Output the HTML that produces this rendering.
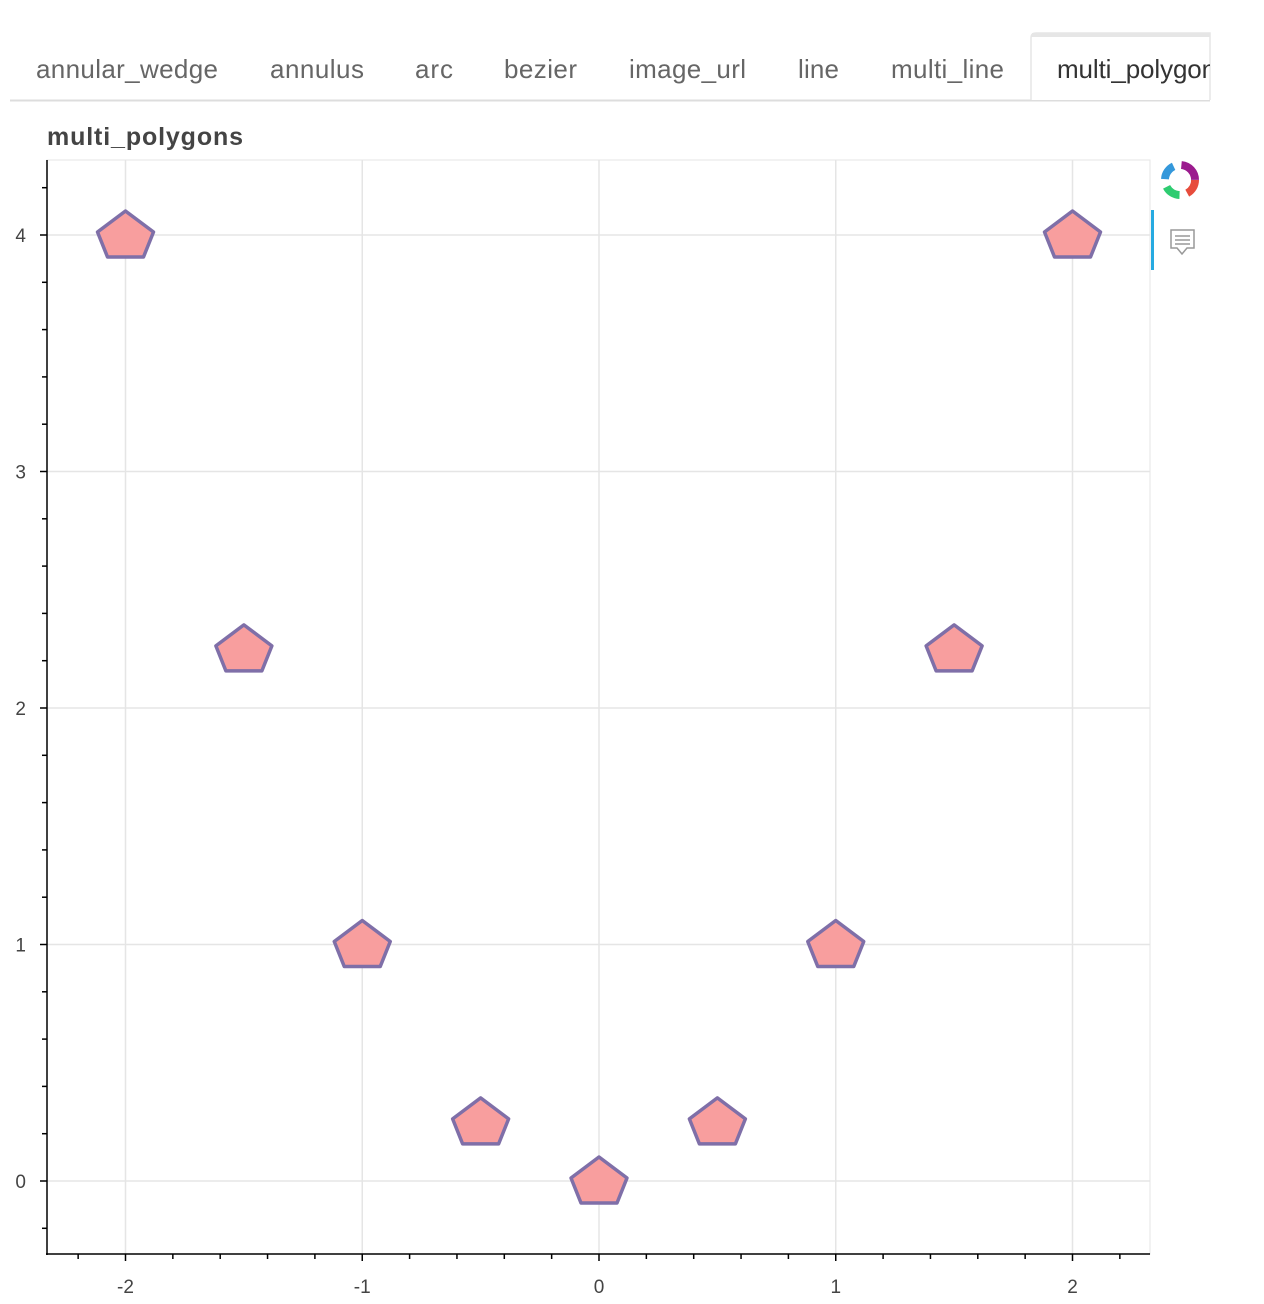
<!DOCTYPE html>
<html><head><meta charset="utf-8"><style>
body{margin:0;background:#fff;font-family:"Liberation Sans",sans-serif;}
svg{display:block}
</style></head><body>
<svg width="1264" height="1304">
<g font-size="26" fill="#666">
<line x1="10" y1="100.5" x2="1210" y2="100.5" stroke="#ddd" stroke-width="2"/>
<path d="M1031 100 V38 Q1031 33 1036 33 H1210 V100" fill="#fff" stroke="#e6e6e6" stroke-width="1.5"/>
<rect x="1032" y="33" width="178" height="4" fill="#e6e6e6"/>
<text x="36" y="78" textLength="182">annular_wedge</text>
<text x="270" y="78" textLength="94">annulus</text>
<text x="415" y="78" textLength="38">arc</text>
<text x="504" y="78" textLength="73">bezier</text>
<text x="629" y="78" textLength="117">image_url</text>
<text x="798" y="78" textLength="41">line</text>
<text x="891" y="78" textLength="113">multi_line</text>
<svg x="1031" y="33" width="179" height="67" overflow="hidden"><text x="26" y="45" fill="#333" font-size="26" textLength="172">multi_polygons</text></svg>
</g>
<text x="47" y="145" font-size="25" font-weight="bold" fill="#444" textLength="196">multi_polygons</text>
<rect x="47" y="160" width="1103" height="1094" fill="none" stroke="#e5e5e5"/>
<g id="grid"></g>
<g id="axes"></g>
<g id="marks"></g>
<g>
<g transform="translate(1180,180)">
<circle r="15" fill="none" stroke="#e74c3c" stroke-width="8" stroke-dasharray="16 80"/>
<circle r="15" fill="none" stroke="#2ecc71" stroke-width="8" stroke-dasharray="0 24 16 80"/>
<circle r="15" fill="none" stroke="#3498db" stroke-width="8" stroke-dasharray="0 48 16 80"/>
<circle r="15" fill="none" stroke="#9b1b8e" stroke-width="8" stroke-dasharray="0 72 22 80"/>
<circle r="11" fill="#fff"/>
</g>
<rect x="1151" y="210" width="3" height="60" fill="#26aae1"/>
<g fill="none" stroke="#999" stroke-width="1.5">
<path d="M1171 230 H1194 V248 H1187 L1182 254 L1177 248 H1171 Z"/>
<path d="M1175 236 H1190 M1175 240 H1190 M1175 244 H1190"/>
</g>
</g>
</svg>
<script>
const xTicks=[-2,-1,0,1,2];
const yTicks=[0,1,2,3,4];
const xs=[-2,-1.5,-1,-0.5,0,0.5,1,1.5,2];
const ys=[4,2.25,1,0.25,0,0.25,1,2.25,4];
const NS='http://www.w3.org/2000/svg';
const L=47,R=1150,T=160,B=1254;
function sx(v){return 599+v*236.75;}
function sy(v){return 1181-v*236.5;}
function mk(tag,attrs,parent){const e=document.createElementNS(NS,tag);for(const k in attrs)e.setAttribute(k,attrs[k]);parent.appendChild(e);return e;}
const grid=document.getElementById('grid'),axes=document.getElementById('axes'),marks=document.getElementById('marks');
xTicks.forEach(v=>{const g=mk('line',{x1:sx(v),x2:sx(v),y1:T,y2:B,stroke:'#e5e5e5','stroke-width':1.5},grid);

});
yTicks.forEach(v=>{const g=mk('line',{x1:L,x2:R,y1:sy(v),y2:sy(v),stroke:'#e5e5e5','stroke-width':1.5},grid);

});
mk('line',{x1:L,x2:L,y1:T,y2:B+1,stroke:'#000','stroke-width':1.5},axes);
mk('line',{x1:L-1,x2:R,y1:B,y2:B,stroke:'#000','stroke-width':1.5},axes);
for(let i=-12;i<=12;i++){const v=i/5;const x=sx(v);if(x<L||x>R)continue;const maj=i%5===0;
const t=mk('line',{x1:x,x2:x,y1:B,y2:B+(maj?7:5),stroke:'#000','stroke-width':1.5},axes);

}
for(let i=-3;i<=22;i++){const v=i/5;const y=sy(v);if(y<T||y>B)continue;const maj=i%5===0;
const t=mk('line',{x1:L-(maj?7:5),x2:L,y1:y,y2:y,stroke:'#000','stroke-width':1.5},axes);

}
xTicks.forEach(v=>{const t=mk('text',{x:sx(v),y:1293,'text-anchor':'middle','font-size':19,fill:'#444'},axes);t.textContent=String(v);

});
yTicks.forEach(v=>{const t=mk('text',{x:26,y:sy(v)+7,'text-anchor':'end','font-size':19,fill:'#444'},axes);t.textContent=String(v);

});
xs.forEach((xv,i)=>{const cx=sx(xv),cy=sy(ys[i]);
const pts=[[0,-24],[28,-3],[18,22],[-18,22],[-28,-3]].map(p=>(cx+p[0])+','+(cy+p[1])).join(' ');
const p=mk('polygon',{points:pts,fill:'#f89e9e',stroke:'#7f6fa8','stroke-width':3.5,'stroke-linejoin':'round'},marks);

});
</script>
</body></html>
